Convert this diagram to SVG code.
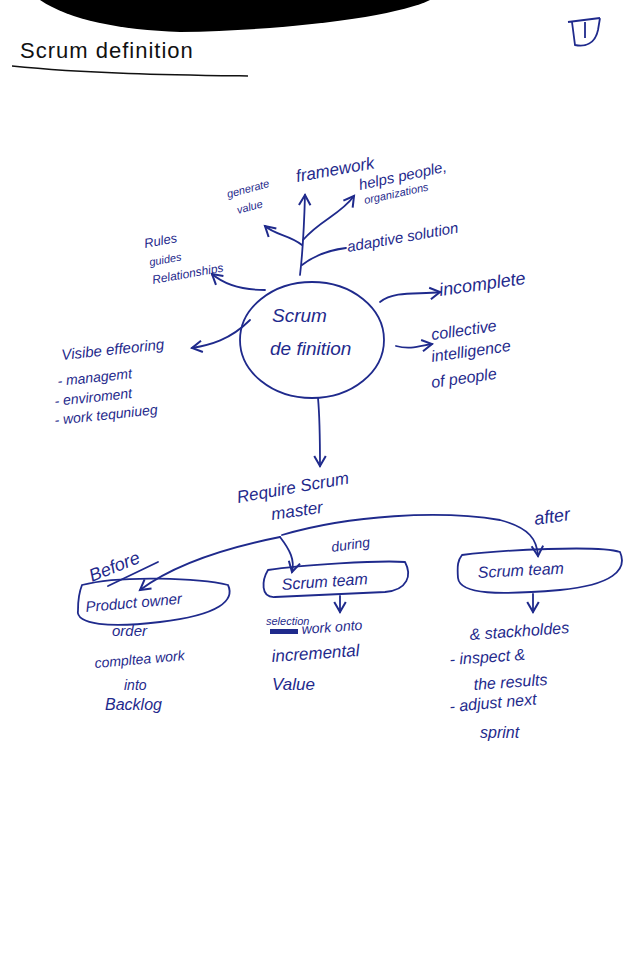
<svg xmlns="http://www.w3.org/2000/svg" width="638" height="964" viewBox="0 0 638 964">
<style>
.t{font-family:"Liberation Sans",sans-serif;font-style:italic;fill:#1f2a8c}
.l{fill:none;stroke:#1f2a8c;stroke-width:1.8;stroke-linecap:round}
</style>
<defs><marker id="a" viewBox="0 0 10 10" refX="8" refY="5" markerWidth="8" markerHeight="8" orient="auto-start-reverse"><path d="M1,1 L8,5 L1,9" fill="none" stroke="#1f2a8c" stroke-width="1.4"/></marker></defs>
<rect width="638" height="964" fill="#fff"/>
<path d="M40,0 L430,0 C400,15 300,30 180,32 C120,30 70,20 40,0Z" fill="#000"/>
<g id="title"><text x="20" y="58" font-family="Liberation Sans,sans-serif" font-size="22" fill="#111" letter-spacing="1">Scrum  definition</text>
<path d="M12,66 C90,74 180,75 248,76" fill="none" stroke="#111" stroke-width="1.5"/></g>
<g id="logo"><path d="M568,22 L600,18 M572,22 L575,45 C585,47 595,44 598,30 L600,18 M585,22 L585,38" fill="none" stroke="#1f2a8c" stroke-width="1.8"/></g>
<g id="connectors">
<path class="l" d="M300,275 C303,250 304,230 305,195" marker-end="url(#a)"/>
<path class="l" d="M302,245 C290,235 275,235 265,226" marker-end="url(#a)"/>
<path class="l" d="M303,240 C320,220 340,215 354,196" marker-end="url(#a)"/>
<path class="l" d="M302,265 C315,255 330,250 346,248"/>
<path class="l" d="M265,290 C245,290 225,285 212,274" marker-end="url(#a)"/>
<path class="l" d="M380,302 C395,290 420,295 440,292" marker-end="url(#a)"/>
<path class="l" d="M396,346 C410,350 420,346 432,344" marker-end="url(#a)"/>
<path class="l" d="M250,320 C230,340 210,345 192,348" marker-end="url(#a)"/>
<path class="l" d="M318,398 C320,420 320,440 320,466" marker-end="url(#a)"/>
<path class="l" d="M280,537 C240,545 180,560 140,590" marker-end="url(#a)"/>
<path class="l" d="M280,537 C290,550 295,560 292,572" marker-end="url(#a)"/>
<path class="l" d="M282,535 C350,515 440,510 500,520 C530,528 537,540 538,556" marker-end="url(#a)"/>
<path class="l" d="M340,596 L340,612" marker-end="url(#a)"/>
<path class="l" d="M533,594 L533,612" marker-end="url(#a)"/>
</g>
<g id="center"><ellipse cx="312" cy="340" rx="72" ry="58" class="l"/>
<text class="t" x="272" y="322" font-size="19" font-style="normal">Scrum</text>
<text class="t" x="270" y="355" font-size="19" font-style="normal">de finition</text></g>
<g id="framework"><text class="t" x="297" y="182" font-size="17" transform="rotate(-10 297 182)">framework</text></g>
<g id="generate"><text class="t" x="228" y="198" font-size="11" transform="rotate(-15 228 198)">generate</text><text class="t" x="238" y="214" font-size="11" transform="rotate(-15 238 214)">value</text></g>
<g id="helps"><text class="t" x="360" y="190" font-size="15" transform="rotate(-12 360 190)">helps people,</text><text class="t" x="365" y="204" font-size="11" transform="rotate(-12 365 204)">organizations</text></g>
<g id="adaptive"><text class="t" x="348" y="252" font-size="15" transform="rotate(-10 348 252)">adaptive solution</text></g>
<g id="rules"><text class="t" x="145" y="248" font-size="13" transform="rotate(-10 145 248)">Rules</text><text class="t" x="150" y="266" font-size="11" transform="rotate(-10 150 266)">guides</text><text class="t" x="153" y="284" font-size="12" transform="rotate(-10 153 284)">Relationships</text></g>
<g id="incomplete"><text class="t" x="440" y="296" font-size="18" font-style="normal" transform="rotate(-8 440 296)">incomplete</text></g>
<g id="collective"><text class="t" x="432" y="340" font-size="16" transform="rotate(-8 432 340)">collective</text><text class="t" x="432" y="362" font-size="16" transform="rotate(-8 432 362)">intelligence</text><text class="t" x="432" y="388" font-size="16" transform="rotate(-8 432 388)">of people</text></g>
<g id="visible"><text class="t" x="62" y="360" font-size="15" transform="rotate(-6 62 360)">Visibe effeoring</text>
<text class="t" x="58" y="386" font-size="14" transform="rotate(-6 58 386)">- managemt</text>
<text class="t" x="55" y="406" font-size="14" transform="rotate(-6 55 406)">- enviroment</text>
<text class="t" x="55" y="425" font-size="14" transform="rotate(-6 55 425)">- work tequniueg</text></g>
<g id="require"><text class="t" x="238" y="503" font-size="17" transform="rotate(-10 238 503)">Require Scrum</text><text class="t" x="272" y="520" font-size="17" transform="rotate(-8 272 520)">master</text></g>
<g id="before"><text class="t" x="92" y="582" font-size="18" transform="rotate(-22 92 582)">Before</text><path class="l" d="M108,586 L158,562"/>
<path class="l" d="M82,585 C120,575 200,578 228,585 C235,600 220,615 160,622 C110,628 75,625 78,610 C78,597 80,590 82,585Z"/>
<text class="t" x="86" y="612" font-size="15" transform="rotate(-5 86 612)">Product owner</text>
<text class="t" x="112" y="636" font-size="15">order</text>
<text class="t" x="95" y="668" font-size="14" transform="rotate(-5 95 668)">compltea work</text>
<text class="t" x="124" y="690" font-size="14">into</text>
<text class="t" x="105" y="710" font-size="16">Backlog</text></g>
<g id="during"><text class="t" x="332" y="552" font-size="14" transform="rotate(-8 332 552)">during</text>
<path class="l" d="M268,570 C300,565 380,560 405,562 C412,575 408,590 385,592 L275,597 C260,598 262,580 268,570Z"/>
<text class="t" x="282" y="590" font-size="16" font-style="normal" transform="rotate(-4 282 590)">Scrum team</text>
<text class="t" x="266" y="625" font-size="11">selection</text><rect x="270" y="629" width="28" height="5" fill="#1f2a8c"/>
<text class="t" x="302" y="634" font-size="14" transform="rotate(-4 302 634)">work onto</text>
<text class="t" x="272" y="662" font-size="17" transform="rotate(-4 272 662)">incremental</text>
<text class="t" x="272" y="690" font-size="17">Value</text></g>
<g id="after"><text class="t" x="535" y="525" font-size="18" transform="rotate(-8 535 525)">after</text>
<path class="l" d="M462,555 C500,550 600,545 620,552 C628,570 612,585 560,590 C500,595 460,595 458,578 C457,565 458,560 462,555Z"/>
<text class="t" x="478" y="578" font-size="16" font-style="normal" transform="rotate(-3 478 578)">Scrum team</text>
<text class="t" x="470" y="640" font-size="16" transform="rotate(-4 470 640)">&amp; stackholdes</text>
<text class="t" x="450" y="665" font-size="16" transform="rotate(-4 450 665)">- inspect &amp;</text>
<text class="t" x="474" y="690" font-size="16" transform="rotate(-4 474 690)">the results</text>
<text class="t" x="450" y="712" font-size="16" transform="rotate(-5 450 712)">- adjust next</text>
<text class="t" x="480" y="738" font-size="16">sprint</text></g>
</svg>
